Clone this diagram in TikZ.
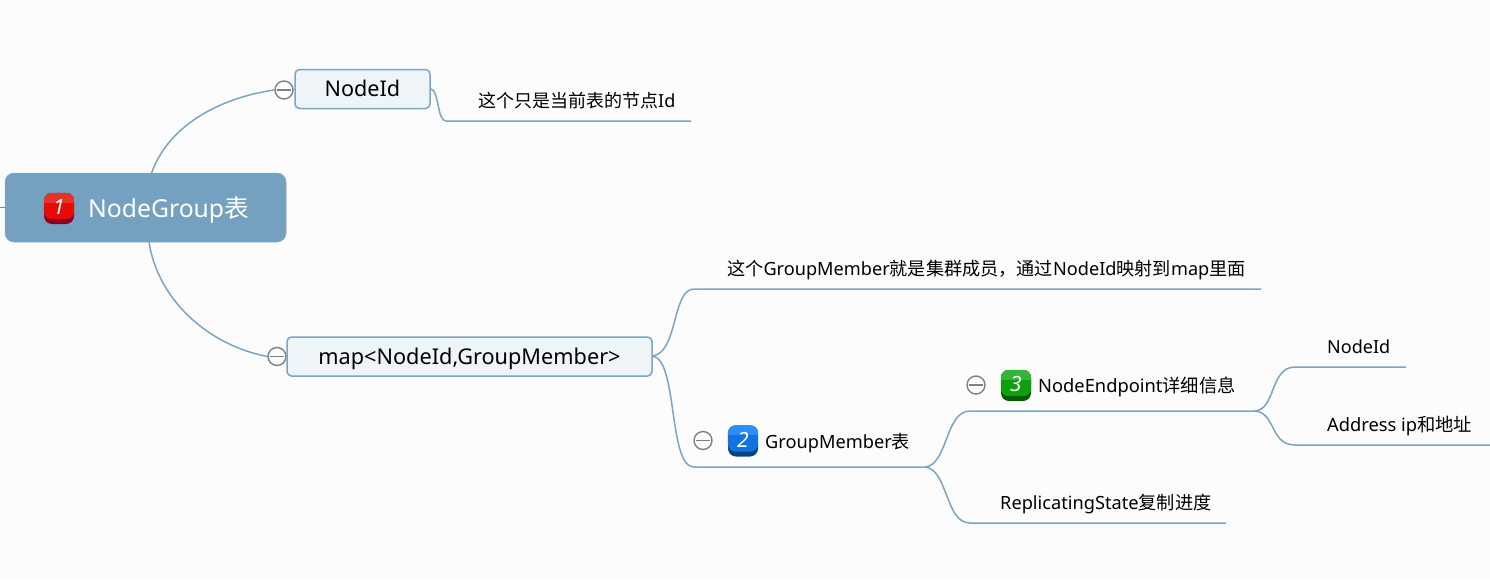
\documentclass[tikz,border=0pt]{standalone}
\usepackage{fontspec}
\setmainfont{Noto Sans}
\newfontfamily\cjk{Noto Sans CJK SC}
\definecolor{bgc}{HTML}{FCFCFC}
\definecolor{linec}{HTML}{7AA5C3}
\definecolor{rootc}{HTML}{75A1C0}
\definecolor{boxc}{HTML}{EEF4F8}
\definecolor{minusc}{HTML}{808080}
\definecolor{redA}{HTML}{E4332A}\definecolor{redB}{HTML}{E60B05}\definecolor{redC}{HTML}{8A0020}
\definecolor{bluA}{HTML}{2E8CF2}\definecolor{bluB}{HTML}{1273E0}\definecolor{bluC}{HTML}{04457F}
\definecolor{greA}{HTML}{35B535}\definecolor{greB}{HTML}{0EA00E}\definecolor{greC}{HTML}{055A05}
\newcommand{\fs}[1]{\fontsize{#1}{#1}\selectfont}
\tikzset{
  conn/.style={draw=linec,line width=1.5pt},
  rootbox/.style={fill=rootc,draw=rootc!90!white,rounded corners=9pt,minimum width=281pt,minimum height=69pt,inner sep=0pt,line width=.5pt},
  topicbox/.style={fill=boxc,draw=linec,rounded corners=4.5pt,inner sep=0pt,minimum height=39pt,line width=1.5pt,text=black},
  lab/.style={inner sep=0pt,anchor=base west,text=black},
  collapse/.style={circle,draw=minusc,fill=bgc,line width=1.4pt,minimum size=18pt,inner sep=0pt,
    path picture={\draw[minusc,line width=1.4pt] ([xshift=2pt]path picture bounding box.west)--([xshift=-2pt]path picture bounding box.east);}},
  icoface/.style={rounded corners=8pt,minimum width=30pt,minimum height=31pt,inner sep=0pt},
}
% #1 name, #2 centre, #3 dark, #4 main, #5 light, #6 digit
\newcommand{\icon}[6]{%
  \node[icoface,fill=#3] (#1) at (#2) {};
  \begin{scope}
    \clip[rounded corners=8pt] (#1.north west) rectangle (#1.south east);
    \fill[#4,rounded corners=8pt] ([yshift=9pt]#1.north west) rectangle ([yshift=5pt]#1.south east);
    \fill[#5] (#1.north west) rectangle ([yshift=-10pt]#1.north east);
  \end{scope}
  \node[inner sep=0pt,text=white] (#1t) at ([yshift=1.5pt]#1.center) {\fs{21}\itshape #6};
}
\begin{document}
\begin{tikzpicture}[x=1pt,y=-1pt]
\path[use as bounding box,fill=bgc] (0,0) rectangle (1490,579);

% free line ends
\coordinate (rootL) at (0,207);
\coordinate (e1) at (691,121);  \coordinate (k1) at (446,121);
\coordinate (e2) at (1261,289); \coordinate (k2) at (694,289);
\coordinate (e3) at (925,467);  \coordinate (k3) at (694,467);
\coordinate (e4) at (1255,411); \coordinate (k4) at (970,411);
\coordinate (e5) at (1226,523); \coordinate (k5) at (970,523);
\coordinate (e6) at (1406,367); \coordinate (k6) at (1295,367);
\coordinate (e7) at (1490,445); \coordinate (k7) at (1295,445);

% collapse marks
\node[collapse] (cA) at (284,90) {};
\node[collapse] (cB) at (277,356.5) {};
\node[collapse] (cC) at (703,440.5) {};
\node[collapse] (cD) at (976,385) {};

\coordinate (rT) at (151.5,173);
\coordinate (rB) at (149,242);
\coordinate (rL) at (5,207);
\draw[conn] (rT) .. controls (170,122) and (225,97) .. (cA.west);
\draw[conn] (rB) .. controls (158,300) and (208,345) .. (cB.west);
\draw[conn,line width=1pt,draw=minusc] (rootL) -- (rL);

\node[rootbox] (root) at (145.5,207.5) {};
\node[topicbox,minimum width=135pt] (nid) at (362.5,89) {\raisebox{-7.5pt}[0pt][0pt]{\fs{21.6}NodeId}};
\node[topicbox,minimum width=365pt] (map) at (469.5,356.5) {\raisebox{-8pt}[0pt][0pt]{\fs{21.7}map<NodeId,GroupMember>}};
\draw[conn] (cA.east) -- (nid.west);
\draw[conn] (cB.east) -- (map.west);

\coordinate (nr) at (431,89);
\coordinate (mr) at (652.5,356);
\draw[conn] (nr) .. controls (439,90) and (437,121) .. (k1) -- (e1);
\draw[conn] (mr) .. controls (678,353) and (672,289) .. (k2) -- (e2);
\draw[conn] (mr) .. controls (678,359) and (668,467) .. (k3) -- (e3);
\draw[conn] (e3) .. controls (948,465) and (945,411) .. (k4) -- (e4);
\draw[conn] (e3) .. controls (948,469) and (945,523) .. (k5) -- (e5);
\draw[conn] (e4) .. controls (1276,409) and (1270,367) .. (k6) -- (e6);
\draw[conn] (e4) .. controls (1276,413) and (1270,445) .. (k7) -- (e7);

% icons
\icon{i1}{59,208.5}{redC}{redB}{redA}{1}
\icon{i2}{743,441}{bluC}{bluB}{bluA}{2}
\icon{i3}{1016,385.5}{greC}{greB}{greA}{3}

% labels
\node[lab,text=white] (tRoot) at (88,217) {\fs{24.7}NodeGroup{\cjk 表}};
\node[lab] (t1) at (478,107) {\fs{18}{\cjk 这个只是当前表的节点}Id};
\node[lab] (t2) at (727,275) {\fs{18.15}{\cjk 这个}GroupMember{\cjk 就是集群成员，通过}NodeId{\cjk 映射到}map{\cjk 里面}};
\node[lab] (t3) at (765,448) {\fs{18.2}GroupMember{\cjk 表}};
\node[lab] (t4) at (1038,392) {\fs{18.3}NodeEndpoint{\cjk 详细信息}};
\node[lab] (t5) at (1000,509.5) {\fs{18.2}ReplicatingState{\cjk 复制进度}};
\node[lab] (t6) at (1327,353) {\fs{18}NodeId};
\node[lab] (t7) at (1327,431) {\fs{18.3}Address ip{\cjk 和地址}};
\end{tikzpicture}
\end{document}
